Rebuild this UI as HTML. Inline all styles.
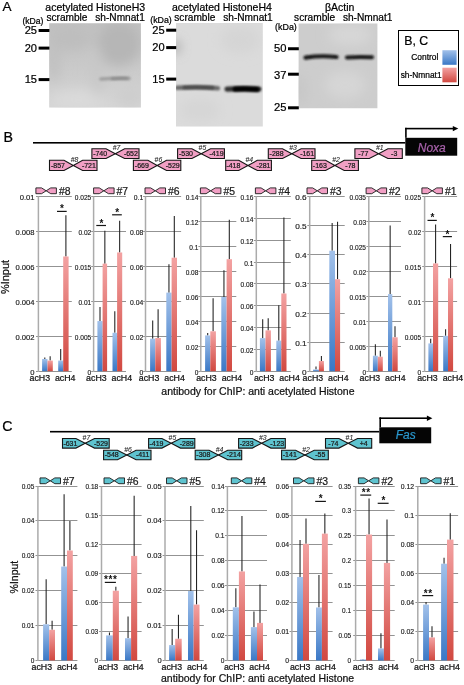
<!DOCTYPE html>
<html><head><meta charset="utf-8"><title>Figure</title>
<style>html,body{margin:0;padding:0;background:#fff;}svg{display:block;}text{font-family:"Liberation Sans", Arial, Helvetica, sans-serif;}</style>
</head><body>
<svg width="464" height="685" viewBox="0 0 464 685">
<defs>
<linearGradient id="gblue" x1="0" y1="0" x2="0" y2="1">
 <stop offset="0" stop-color="#a2c1ea"/><stop offset="1" stop-color="#3a78c6"/></linearGradient>
<linearGradient id="gred" x1="0" y1="0" x2="0" y2="1">
 <stop offset="0" stop-color="#f3a2a2"/><stop offset="1" stop-color="#d14840"/></linearGradient>
<linearGradient id="blot1" gradientUnits="userSpaceOnUse" x1="0" y1="23" x2="0" y2="108">
 <stop offset="0" stop-color="#c0c0c0"/><stop offset="0.45" stop-color="#c8c8c8"/><stop offset="1" stop-color="#d5d5d5"/></linearGradient>
<linearGradient id="blot1b" x1="0" y1="0" x2="1" y2="0">
 <stop offset="0" stop-color="#fff" stop-opacity="0.05"/><stop offset="0.5" stop-color="#fff" stop-opacity="0.08"/><stop offset="1" stop-color="#000" stop-opacity="0.04"/></linearGradient>
<linearGradient id="blot2" x1="0" y1="0" x2="0" y2="1">
 <stop offset="0" stop-color="#dadada"/><stop offset="1" stop-color="#dedede"/></linearGradient>
<linearGradient id="blot3" x1="0" y1="0" x2="0" y2="1">
 <stop offset="0" stop-color="#cfcfcf"/><stop offset="1" stop-color="#d6d6d6"/></linearGradient>
<filter id="blur1" filterUnits="userSpaceOnUse" x="0" y="0" width="464" height="200"><feGaussianBlur stdDeviation="1.0"/></filter>
<filter id="blur2" x="-50%" y="-50%" width="200%" height="200%"><feGaussianBlur stdDeviation="2.5"/></filter>
<filter id="blur6" filterUnits="userSpaceOnUse" x="0" y="0" width="464" height="200"><feGaussianBlur stdDeviation="6"/></filter>
<filter id="blur12" filterUnits="userSpaceOnUse" x="0" y="0" width="464" height="200"><feGaussianBlur stdDeviation="1.3"/></filter>
<filter id="blur08" filterUnits="userSpaceOnUse" x="0" y="0" width="464" height="200"><feGaussianBlur stdDeviation="0.8"/></filter>
</defs>
<text x="2.4" y="10.8" font-size="13.5" text-anchor="start" fill="#000" stroke="#000" stroke-width="0.22" >A</text>
<svg x="49.2" y="23.2" width="91.7" height="84.4" overflow="hidden"><g transform="translate(-49.2 -23.2)">
<rect x="40" y="15" width="110" height="100" fill="url(#blot1)"/>
<g filter="url(#blur6)">
<ellipse cx="119" cy="44" rx="22" ry="22" fill="#b6b6b6"/>
<ellipse cx="70" cy="38" rx="22" ry="12" fill="#bebebe"/>
<ellipse cx="54" cy="62" rx="6" ry="20" fill="#c0c0c0"/>
<ellipse cx="78" cy="100" rx="28" ry="10" fill="#dadada"/>
<ellipse cx="130" cy="98" rx="12" ry="10" fill="#cdcdcd"/>
<ellipse cx="97" cy="72" rx="6" ry="26" fill="#c8c8c8"/>
</g>
<path d="M101,79 Q114,77.8 129,78.4" stroke="#a0a0a0" stroke-width="3.6" fill="none" stroke-linecap="round" filter="url(#blur12)"/>
<path d="M112,78.7 Q120,78 127,78.4" stroke="#8c8c8c" stroke-width="2.4" fill="none" stroke-linecap="round" filter="url(#blur12)"/>
</g></svg>
<svg x="176" y="23" width="86.8" height="103.6" overflow="hidden"><g transform="translate(-176 -23)">
<rect x="170" y="15" width="100" height="120" fill="#dbdbdb"/>
<g filter="url(#blur6)">
<ellipse cx="175" cy="47" rx="4" ry="6" fill="#909090"/>
<ellipse cx="240" cy="40" rx="20" ry="14" fill="#d5d5d5"/>
<ellipse cx="200" cy="110" rx="20" ry="12" fill="#d6d6d6"/>
</g>
<path d="M177,87.8 Q198,86.6 218,88.2" stroke="#6a6a6a" stroke-width="4.4" fill="none" stroke-linecap="round" filter="url(#blur1)"/>
<path d="M184,87.6 Q200,86.9 213,87.8" stroke="#4a4a4a" stroke-width="3" fill="none" stroke-linecap="round" filter="url(#blur1)"/>
<path d="M227,89.2 Q242,88.2 259,89.2" stroke="#333" stroke-width="5.2" fill="none" stroke-linecap="round" filter="url(#blur1)"/>
<path d="M235,89.2 Q246,88.4 257,89.3" stroke="#050505" stroke-width="4.8" fill="none" stroke-linecap="round" filter="url(#blur1)"/>
</g></svg>
<svg x="298.6" y="23.5" width="78.8" height="84.7" overflow="hidden"><g transform="translate(-298.6 -23.5)">
<rect x="290" y="15" width="100" height="100" fill="#cdcdcd"/>
<g filter="url(#blur6)">
<ellipse cx="300" cy="90" rx="6" ry="16" fill="#c6c6c6"/>
<ellipse cx="350" cy="35" rx="22" ry="10" fill="#d7d7d7"/>
<ellipse cx="345" cy="85" rx="20" ry="14" fill="#d6d6d6"/>
</g>
<path d="M305.5,57.6 Q321,55.2 336.5,57" stroke="#161616" stroke-width="4.2" fill="none" stroke-linecap="round" filter="url(#blur08)"/>
<path d="M347,57.4 Q359,56.9 372,57.3" stroke="#161616" stroke-width="4.0" fill="none" stroke-linecap="round" filter="url(#blur08)"/>
</g></svg>
<text x="45.3" y="10.9" font-size="10.5" text-anchor="start" fill="#000" stroke="#000" stroke-width="0.22" >acetylated HistoneH3</text>
<text x="46.4" y="20.9" font-size="10.15" text-anchor="start" fill="#000" stroke="#000" stroke-width="0.22" >scramble</text>
<text x="95.3" y="20.9" font-size="10.15" text-anchor="start" fill="#000" stroke="#000" stroke-width="0.22" >sh-Nmnat1</text>
<text x="172" y="10.9" font-size="10.5" text-anchor="start" fill="#000" stroke="#000" stroke-width="0.22" >acetylated HistoneH4</text>
<text x="174.3" y="20.9" font-size="10.15" text-anchor="start" fill="#000" stroke="#000" stroke-width="0.22" >scramble</text>
<text x="223.2" y="20.9" font-size="10.15" text-anchor="start" fill="#000" stroke="#000" stroke-width="0.22" >sh-Nmnat1</text>
<text x="354.4" y="10.6" font-size="10.5" text-anchor="end" fill="#000" stroke="#000" stroke-width="0.22" >&#946;Actin</text>
<text x="294.1" y="20.7" font-size="10.15" text-anchor="start" fill="#000" stroke="#000" stroke-width="0.22" >scramble</text>
<text x="342.9" y="20.7" font-size="10.15" text-anchor="start" fill="#000" stroke="#000" stroke-width="0.22" >sh-Nmnat1</text>
<text x="22.4" y="23.8" font-size="8.6" text-anchor="start" fill="#000" stroke="#000" stroke-width="0.22" >(kDa)</text>
<rect x="38.6" y="29" width="10.8" height="3" fill="#000"/>
<text x="37" y="33.9" font-size="11.1" text-anchor="end" fill="#000" stroke="#000" stroke-width="0.22" >25</text>
<rect x="38.6" y="46.6" width="10.8" height="3" fill="#000"/>
<text x="37" y="51.5" font-size="11.1" text-anchor="end" fill="#000" stroke="#000" stroke-width="0.22" >20</text>
<rect x="38.6" y="78.1" width="10.8" height="3" fill="#000"/>
<text x="37" y="83" font-size="11.1" text-anchor="end" fill="#000" stroke="#000" stroke-width="0.22" >15</text>
<text x="150.3" y="23.3" font-size="8.8" text-anchor="start" fill="#000" stroke="#000" stroke-width="0.22" >(kDa)</text>
<rect x="166.2" y="28.7" width="10" height="3" fill="#000"/>
<text x="164.6" y="33.6" font-size="11.1" text-anchor="end" fill="#000" stroke="#000" stroke-width="0.22" >25</text>
<rect x="166.2" y="46.1" width="10" height="3" fill="#000"/>
<text x="164.6" y="51" font-size="11.1" text-anchor="end" fill="#000" stroke="#000" stroke-width="0.22" >20</text>
<rect x="166.2" y="77.6" width="10" height="3" fill="#000"/>
<text x="164.6" y="82.5" font-size="11.1" text-anchor="end" fill="#000" stroke="#000" stroke-width="0.22" >15</text>
<text x="275.1" y="30.1" font-size="8.9" text-anchor="start" fill="#000" stroke="#000" stroke-width="0.22" >(kDa)</text>
<rect x="288" y="47.25" width="10.8" height="3" fill="#000"/>
<text x="286.4" y="52.2" font-size="11.2" text-anchor="end" fill="#000" stroke="#000" stroke-width="0.22" >50</text>
<rect x="288" y="72.7" width="10.8" height="3" fill="#000"/>
<text x="286.4" y="79.3" font-size="11.2" text-anchor="end" fill="#000" stroke="#000" stroke-width="0.22" >37</text>
<rect x="288" y="106.3" width="10.8" height="3" fill="#000"/>
<text x="286.4" y="111" font-size="11.2" text-anchor="end" fill="#000" stroke="#000" stroke-width="0.22" >25</text>
<rect x="398.5" y="30.5" width="60" height="55" fill="#fff" stroke="#000" stroke-width="1"/>
<text x="404.2" y="44.7" font-size="12.3" text-anchor="start" fill="#000" stroke="#000" stroke-width="0.22" >B, C</text>
<text x="438.3" y="59.9" font-size="8.4" text-anchor="end" fill="#000" stroke="#000" stroke-width="0.22" >Control</text>
<text x="441.6" y="78.2" font-size="8.4" text-anchor="end" fill="#000" stroke="#000" stroke-width="0.22" >sh-Nmnat1</text>
<rect x="442.4" y="50.2" width="14.2" height="14.6" fill="url(#gblue)"/>
<rect x="442.4" y="67.7" width="14.2" height="14.6" fill="url(#gred)"/>
<text x="3.4" y="141.8" font-size="14.2" text-anchor="start" fill="#000" stroke="#000" stroke-width="0.22" >B</text>
<rect x="33" y="142" width="372.3" height="1.6" fill="#000"/>
<rect x="405.3" y="137.8" width="51.9" height="17.9" fill="#050505"/>
<rect x="405.1" y="127.8" width="1.6" height="10" fill="#000"/>
<rect x="405.1" y="127.8" width="48.4" height="1.6" fill="#000"/>
<polygon points="452.8,125.9 458.3,128.6 452.8,131.3" fill="#000"/>
<text x="431.75" y="151.5" font-size="12" text-anchor="middle" fill="#a862ab" stroke="#a862ab" stroke-width="0.22" font-style="italic">Noxa</text>
<polygon points="49.5,160.3 64,160.3 73.3,165.4 64,170.5 49.5,170.5" fill="#f19fc4" stroke="#151515" stroke-width="1.1" stroke-linejoin="miter"/>
<polygon points="97,160.3 82.6,160.3 73.3,165.4 82.6,170.5 97,170.5" fill="#f19fc4" stroke="#151515" stroke-width="1.1" stroke-linejoin="miter"/>
<text x="57.95" y="168" font-size="7.0" text-anchor="middle" fill="#1a1a1a" stroke="#1a1a1a" stroke-width="0.22" >-857</text>
<text x="88.9" y="168" font-size="7.0" text-anchor="middle" fill="#1a1a1a" stroke="#1a1a1a" stroke-width="0.22" >-721</text>
<text x="74.5" y="161.7" font-size="6.8" text-anchor="middle" fill="#222" stroke="#222" stroke-width="0.08" font-style="italic">#8</text>
<polygon points="91.9,148.8 106,148.8 115.3,153.65 106,158.5 91.9,158.5" fill="#f19fc4" stroke="#151515" stroke-width="1.1" stroke-linejoin="miter"/>
<polygon points="139,148.8 124.6,148.8 115.3,153.65 124.6,158.5 139,158.5" fill="#f19fc4" stroke="#151515" stroke-width="1.1" stroke-linejoin="miter"/>
<text x="100.15" y="156" font-size="7.0" text-anchor="middle" fill="#1a1a1a" stroke="#1a1a1a" stroke-width="0.22" >-740</text>
<text x="130.9" y="156" font-size="7.0" text-anchor="middle" fill="#1a1a1a" stroke="#1a1a1a" stroke-width="0.22" >-652</text>
<text x="116.5" y="150.2" font-size="6.8" text-anchor="middle" fill="#222" stroke="#222" stroke-width="0.08" font-style="italic">#7</text>
<polygon points="133.4,160.3 147.9,160.3 157.2,165.4 147.9,170.5 133.4,170.5" fill="#f19fc4" stroke="#151515" stroke-width="1.1" stroke-linejoin="miter"/>
<polygon points="180.8,160.3 166.5,160.3 157.2,165.4 166.5,170.5 180.8,170.5" fill="#f19fc4" stroke="#151515" stroke-width="1.1" stroke-linejoin="miter"/>
<text x="141.85" y="168" font-size="7.0" text-anchor="middle" fill="#1a1a1a" stroke="#1a1a1a" stroke-width="0.22" >-669</text>
<text x="172.75" y="168" font-size="7.0" text-anchor="middle" fill="#1a1a1a" stroke="#1a1a1a" stroke-width="0.22" >-529</text>
<text x="158.4" y="161.7" font-size="6.8" text-anchor="middle" fill="#222" stroke="#222" stroke-width="0.08" font-style="italic">#6</text>
<polygon points="177.6,148.8 191.9,148.8 201.2,153.65 191.9,158.5 177.6,158.5" fill="#f19fc4" stroke="#151515" stroke-width="1.1" stroke-linejoin="miter"/>
<polygon points="224.4,148.8 210.5,148.8 201.2,153.65 210.5,158.5 224.4,158.5" fill="#f19fc4" stroke="#151515" stroke-width="1.1" stroke-linejoin="miter"/>
<text x="185.95" y="156" font-size="7.0" text-anchor="middle" fill="#1a1a1a" stroke="#1a1a1a" stroke-width="0.22" >-530</text>
<text x="216.55" y="156" font-size="7.0" text-anchor="middle" fill="#1a1a1a" stroke="#1a1a1a" stroke-width="0.22" >-419</text>
<text x="202.4" y="150.2" font-size="6.8" text-anchor="middle" fill="#222" stroke="#222" stroke-width="0.08" font-style="italic">#5</text>
<polygon points="225.7,160.3 238.7,160.3 248,165.4 238.7,170.5 225.7,170.5" fill="#f19fc4" stroke="#151515" stroke-width="1.1" stroke-linejoin="miter"/>
<polygon points="271.4,160.3 257.3,160.3 248,165.4 257.3,170.5 271.4,170.5" fill="#f19fc4" stroke="#151515" stroke-width="1.1" stroke-linejoin="miter"/>
<text x="233.4" y="168" font-size="7.0" text-anchor="middle" fill="#1a1a1a" stroke="#1a1a1a" stroke-width="0.22" >-418</text>
<text x="263.45" y="168" font-size="7.0" text-anchor="middle" fill="#1a1a1a" stroke="#1a1a1a" stroke-width="0.22" >-281</text>
<text x="249.2" y="161.7" font-size="6.8" text-anchor="middle" fill="#222" stroke="#222" stroke-width="0.08" font-style="italic">#4</text>
<polygon points="268.3,148.8 282.5,148.8 291.8,153.65 282.5,158.5 268.3,158.5" fill="#f19fc4" stroke="#151515" stroke-width="1.1" stroke-linejoin="miter"/>
<polygon points="315,148.8 301.1,148.8 291.8,153.65 301.1,158.5 315,158.5" fill="#f19fc4" stroke="#151515" stroke-width="1.1" stroke-linejoin="miter"/>
<text x="276.6" y="156" font-size="7.0" text-anchor="middle" fill="#1a1a1a" stroke="#1a1a1a" stroke-width="0.22" >-288</text>
<text x="307.15" y="156" font-size="7.0" text-anchor="middle" fill="#1a1a1a" stroke="#1a1a1a" stroke-width="0.22" >-161</text>
<text x="293" y="150.2" font-size="6.8" text-anchor="middle" fill="#222" stroke="#222" stroke-width="0.08" font-style="italic">#3</text>
<polygon points="311.7,160.3 325.6,160.3 334.9,165.4 325.6,170.5 311.7,170.5" fill="#f19fc4" stroke="#151515" stroke-width="1.1" stroke-linejoin="miter"/>
<polygon points="358.4,160.3 344.2,160.3 334.9,165.4 344.2,170.5 358.4,170.5" fill="#f19fc4" stroke="#151515" stroke-width="1.1" stroke-linejoin="miter"/>
<text x="319.85" y="168" font-size="7.0" text-anchor="middle" fill="#1a1a1a" stroke="#1a1a1a" stroke-width="0.22" >-163</text>
<text x="350.4" y="168" font-size="7.0" text-anchor="middle" fill="#1a1a1a" stroke="#1a1a1a" stroke-width="0.22" >-78</text>
<text x="336.1" y="161.7" font-size="6.8" text-anchor="middle" fill="#222" stroke="#222" stroke-width="0.08" font-style="italic">#2</text>
<polygon points="354.9,148.8 369.3,148.8 378.6,153.65 369.3,158.5 354.9,158.5" fill="#f19fc4" stroke="#151515" stroke-width="1.1" stroke-linejoin="miter"/>
<polygon points="402.3,148.8 387.9,148.8 378.6,153.65 387.9,158.5 402.3,158.5" fill="#f19fc4" stroke="#151515" stroke-width="1.1" stroke-linejoin="miter"/>
<text x="363.3" y="156" font-size="7.0" text-anchor="middle" fill="#1a1a1a" stroke="#1a1a1a" stroke-width="0.22" >-77</text>
<text x="394.2" y="156" font-size="7.0" text-anchor="middle" fill="#1a1a1a" stroke="#1a1a1a" stroke-width="0.22" >-3</text>
<text x="379.8" y="150.2" font-size="6.8" text-anchor="middle" fill="#222" stroke="#222" stroke-width="0.08" font-style="italic">#1</text>
<line x1="36" y1="196.5" x2="71.8" y2="196.5" stroke="#939393" stroke-width="1.1"/>
<text x="34.55" y="199.8" font-size="7" text-anchor="end" fill="#1a1a1a" stroke="#1a1a1a" stroke-width="0.15" textLength="14.85" lengthAdjust="spacingAndGlyphs">0.01</text>
<line x1="36" y1="231.5" x2="71.8" y2="231.5" stroke="#939393" stroke-width="1.1"/>
<text x="34.55" y="234.8" font-size="7" text-anchor="end" fill="#1a1a1a" stroke="#1a1a1a" stroke-width="0.15" textLength="19.09" lengthAdjust="spacingAndGlyphs">0.008</text>
<line x1="36" y1="266.5" x2="71.8" y2="266.5" stroke="#939393" stroke-width="1.1"/>
<text x="34.55" y="269.8" font-size="7" text-anchor="end" fill="#1a1a1a" stroke="#1a1a1a" stroke-width="0.15" textLength="19.09" lengthAdjust="spacingAndGlyphs">0.006</text>
<line x1="36" y1="301.5" x2="71.8" y2="301.5" stroke="#939393" stroke-width="1.1"/>
<text x="34.55" y="304.8" font-size="7" text-anchor="end" fill="#1a1a1a" stroke="#1a1a1a" stroke-width="0.15" textLength="19.09" lengthAdjust="spacingAndGlyphs">0.004</text>
<line x1="36" y1="336.5" x2="71.8" y2="336.5" stroke="#939393" stroke-width="1.1"/>
<text x="34.55" y="339.8" font-size="7" text-anchor="end" fill="#1a1a1a" stroke="#1a1a1a" stroke-width="0.15" textLength="19.09" lengthAdjust="spacingAndGlyphs">0.002</text>
<line x1="36" y1="371.5" x2="71.8" y2="371.5" stroke="#939393" stroke-width="1.1"/>
<text x="34.55" y="374.8" font-size="7" text-anchor="end" fill="#1a1a1a" stroke="#1a1a1a" stroke-width="0.15" textLength="4.24" lengthAdjust="spacingAndGlyphs">0</text>
<line x1="38.4" y1="196.5" x2="38.4" y2="372" stroke="#ababab" stroke-width="1.5"/>
<line x1="44.8" y1="357.58" x2="44.8" y2="358.98" stroke="#1e1e1e" stroke-width="1.05"/>
<rect x="42.1" y="358.98" width="5.4" height="12.22" fill="url(#gblue)"/>
<line x1="50.15" y1="356.18" x2="50.15" y2="360.55" stroke="#1e1e1e" stroke-width="1.05"/>
<rect x="47.5" y="360.55" width="5.3" height="10.65" fill="url(#gred)"/>
<line x1="60.7" y1="349.03" x2="60.7" y2="360.55" stroke="#1e1e1e" stroke-width="1.05"/>
<rect x="58.2" y="360.55" width="5" height="10.65" fill="url(#gblue)"/>
<line x1="65.9" y1="215.28" x2="65.9" y2="256.49" stroke="#1e1e1e" stroke-width="1.05"/>
<rect x="63.2" y="256.49" width="5.4" height="114.71" fill="url(#gred)"/>
<line x1="57" y1="211.4" x2="66.7" y2="211.4" stroke="#151515" stroke-width="1.2"/>
<text x="62.35" y="212.4" font-size="10" font-weight="bold" letter-spacing="0.6" text-anchor="middle" fill="#111">*</text>
<polygon points="35.9,187.9 41.55,187.9 46.15,190.8 41.55,193.7 35.9,193.7" fill="#f19fc4" stroke="#1a1a1a" stroke-width="0.9"/>
<polygon points="56.4,187.9 50.75,187.9 46.15,190.8 50.75,193.7 56.4,193.7" fill="#f19fc4" stroke="#1a1a1a" stroke-width="0.9"/>
<text x="58.9" y="194.6" font-size="10.4" text-anchor="start" fill="#1a1a1a" stroke="#1a1a1a" stroke-width="0.22" >#8</text>
<text x="52.5" y="381.1" font-size="8.8" text-anchor="middle" fill="#111" stroke="#111" stroke-width="0.22" >acH3&#160;&#160;acH4</text>
<line x1="91.2" y1="196.5" x2="126" y2="196.5" stroke="#939393" stroke-width="1.1"/>
<text x="91.25" y="199.8" font-size="7" text-anchor="end" fill="#1a1a1a" stroke="#1a1a1a" stroke-width="0.15" textLength="16.46" lengthAdjust="spacingAndGlyphs">0.025</text>
<line x1="91.2" y1="231.5" x2="126" y2="231.5" stroke="#939393" stroke-width="1.1"/>
<text x="91.25" y="234.8" font-size="7" text-anchor="end" fill="#1a1a1a" stroke="#1a1a1a" stroke-width="0.15" textLength="12.8" lengthAdjust="spacingAndGlyphs">0.02</text>
<line x1="91.2" y1="266.5" x2="126" y2="266.5" stroke="#939393" stroke-width="1.1"/>
<text x="91.25" y="269.8" font-size="7" text-anchor="end" fill="#1a1a1a" stroke="#1a1a1a" stroke-width="0.15" textLength="16.46" lengthAdjust="spacingAndGlyphs">0.015</text>
<line x1="91.2" y1="301.5" x2="126" y2="301.5" stroke="#939393" stroke-width="1.1"/>
<text x="91.25" y="304.8" font-size="7" text-anchor="end" fill="#1a1a1a" stroke="#1a1a1a" stroke-width="0.15" textLength="12.8" lengthAdjust="spacingAndGlyphs">0.01</text>
<line x1="91.2" y1="336.5" x2="126" y2="336.5" stroke="#939393" stroke-width="1.1"/>
<text x="91.25" y="339.8" font-size="7" text-anchor="end" fill="#1a1a1a" stroke="#1a1a1a" stroke-width="0.15" textLength="16.46" lengthAdjust="spacingAndGlyphs">0.005</text>
<line x1="91.2" y1="371.5" x2="126" y2="371.5" stroke="#939393" stroke-width="1.1"/>
<text x="91.25" y="374.8" font-size="7" text-anchor="end" fill="#1a1a1a" stroke="#1a1a1a" stroke-width="0.15" textLength="3.66" lengthAdjust="spacingAndGlyphs">0</text>
<line x1="93.6" y1="196.5" x2="93.6" y2="372" stroke="#ababab" stroke-width="1.5"/>
<line x1="100" y1="306.95" x2="100" y2="321.05" stroke="#1e1e1e" stroke-width="1.05"/>
<rect x="97.4" y="321.05" width="5.2" height="50.15" fill="url(#gblue)"/>
<line x1="104.85" y1="230.82" x2="104.85" y2="263.65" stroke="#1e1e1e" stroke-width="1.05"/>
<rect x="102.6" y="263.65" width="4.5" height="107.55" fill="url(#gred)"/>
<line x1="114.8" y1="311.14" x2="114.8" y2="332.79" stroke="#1e1e1e" stroke-width="1.05"/>
<rect x="112.5" y="332.79" width="4.6" height="38.41" fill="url(#gblue)"/>
<line x1="119.65" y1="220.69" x2="119.65" y2="252.47" stroke="#1e1e1e" stroke-width="1.05"/>
<rect x="117.1" y="252.47" width="5.1" height="118.73" fill="url(#gred)"/>
<line x1="96.3" y1="225.5" x2="106" y2="225.5" stroke="#151515" stroke-width="1.2"/>
<text x="101.65" y="226.5" font-size="10" font-weight="bold" letter-spacing="0.6" text-anchor="middle" fill="#111">*</text>
<line x1="112.1" y1="214.8" x2="121.8" y2="214.8" stroke="#151515" stroke-width="1.2"/>
<text x="117.45" y="215.8" font-size="10" font-weight="bold" letter-spacing="0.6" text-anchor="middle" fill="#111">*</text>
<polygon points="93.6,187.9 99.25,187.9 103.85,190.8 99.25,193.7 93.6,193.7" fill="#f19fc4" stroke="#1a1a1a" stroke-width="0.9"/>
<polygon points="114.1,187.9 108.45,187.9 103.85,190.8 108.45,193.7 114.1,193.7" fill="#f19fc4" stroke="#1a1a1a" stroke-width="0.9"/>
<text x="116.6" y="194.6" font-size="10.4" text-anchor="start" fill="#1a1a1a" stroke="#1a1a1a" stroke-width="0.22" >#7</text>
<text x="109.1" y="381.1" font-size="8.8" text-anchor="middle" fill="#111" stroke="#111" stroke-width="0.22" >acH3&#160;&#160;acH4</text>
<line x1="143.1" y1="196.5" x2="181.1" y2="196.5" stroke="#939393" stroke-width="1.1"/>
<text x="143.25" y="199.8" font-size="7" text-anchor="end" fill="#1a1a1a" stroke="#1a1a1a" stroke-width="0.15" textLength="9.44" lengthAdjust="spacingAndGlyphs">0.1</text>
<line x1="143.1" y1="231.5" x2="181.1" y2="231.5" stroke="#939393" stroke-width="1.1"/>
<text x="143.25" y="234.8" font-size="7" text-anchor="end" fill="#1a1a1a" stroke="#1a1a1a" stroke-width="0.15" textLength="13.21" lengthAdjust="spacingAndGlyphs">0.08</text>
<line x1="143.1" y1="266.5" x2="181.1" y2="266.5" stroke="#939393" stroke-width="1.1"/>
<text x="143.25" y="269.8" font-size="7" text-anchor="end" fill="#1a1a1a" stroke="#1a1a1a" stroke-width="0.15" textLength="13.21" lengthAdjust="spacingAndGlyphs">0.06</text>
<line x1="143.1" y1="301.5" x2="181.1" y2="301.5" stroke="#939393" stroke-width="1.1"/>
<text x="143.25" y="304.8" font-size="7" text-anchor="end" fill="#1a1a1a" stroke="#1a1a1a" stroke-width="0.15" textLength="13.21" lengthAdjust="spacingAndGlyphs">0.04</text>
<line x1="143.1" y1="336.5" x2="181.1" y2="336.5" stroke="#939393" stroke-width="1.1"/>
<text x="143.25" y="339.8" font-size="7" text-anchor="end" fill="#1a1a1a" stroke="#1a1a1a" stroke-width="0.15" textLength="13.21" lengthAdjust="spacingAndGlyphs">0.02</text>
<line x1="143.1" y1="371.5" x2="181.1" y2="371.5" stroke="#939393" stroke-width="1.1"/>
<text x="143.25" y="374.8" font-size="7" text-anchor="end" fill="#1a1a1a" stroke="#1a1a1a" stroke-width="0.15" textLength="3.78" lengthAdjust="spacingAndGlyphs">0</text>
<line x1="145.5" y1="196.5" x2="145.5" y2="372" stroke="#ababab" stroke-width="1.5"/>
<line x1="152.7" y1="320.57" x2="152.7" y2="338.72" stroke="#1e1e1e" stroke-width="1.05"/>
<rect x="150.1" y="338.72" width="5.2" height="32.48" fill="url(#gblue)"/>
<line x1="158.1" y1="309.22" x2="158.1" y2="338.03" stroke="#1e1e1e" stroke-width="1.05"/>
<rect x="155.3" y="338.03" width="5.6" height="33.17" fill="url(#gred)"/>
<line x1="168.95" y1="264.17" x2="168.95" y2="292.63" stroke="#1e1e1e" stroke-width="1.05"/>
<rect x="166.3" y="292.63" width="5.3" height="78.57" fill="url(#gblue)"/>
<line x1="174.3" y1="215.98" x2="174.3" y2="257.71" stroke="#1e1e1e" stroke-width="1.05"/>
<rect x="171.6" y="257.71" width="5.4" height="113.49" fill="url(#gred)"/>
<polygon points="145,187.9 150.65,187.9 155.25,190.8 150.65,193.7 145,193.7" fill="#f19fc4" stroke="#1a1a1a" stroke-width="0.9"/>
<polygon points="165.5,187.9 159.85,187.9 155.25,190.8 159.85,193.7 165.5,193.7" fill="#f19fc4" stroke="#1a1a1a" stroke-width="0.9"/>
<text x="168" y="194.6" font-size="10.4" text-anchor="start" fill="#1a1a1a" stroke="#1a1a1a" stroke-width="0.22" >#6</text>
<text x="161.8" y="381.1" font-size="8.8" text-anchor="middle" fill="#111" stroke="#111" stroke-width="0.22" >acH3&#160;&#160;acH4</text>
<line x1="198.4" y1="196.5" x2="236.3" y2="196.5" stroke="#939393" stroke-width="1.1"/>
<text x="198.35" y="199.8" font-size="7" text-anchor="end" fill="#1a1a1a" stroke="#1a1a1a" stroke-width="0.15" textLength="12.67" lengthAdjust="spacingAndGlyphs">0.14</text>
<line x1="198.4" y1="221.5" x2="236.3" y2="221.5" stroke="#939393" stroke-width="1.1"/>
<text x="198.35" y="224.8" font-size="7" text-anchor="end" fill="#1a1a1a" stroke="#1a1a1a" stroke-width="0.15" textLength="12.67" lengthAdjust="spacingAndGlyphs">0.12</text>
<line x1="198.4" y1="246.5" x2="236.3" y2="246.5" stroke="#939393" stroke-width="1.1"/>
<text x="198.35" y="249.8" font-size="7" text-anchor="end" fill="#1a1a1a" stroke="#1a1a1a" stroke-width="0.15" textLength="9.05" lengthAdjust="spacingAndGlyphs">0.1</text>
<line x1="198.4" y1="271.5" x2="236.3" y2="271.5" stroke="#939393" stroke-width="1.1"/>
<text x="198.35" y="274.8" font-size="7" text-anchor="end" fill="#1a1a1a" stroke="#1a1a1a" stroke-width="0.15" textLength="12.67" lengthAdjust="spacingAndGlyphs">0.08</text>
<line x1="198.4" y1="296.5" x2="236.3" y2="296.5" stroke="#939393" stroke-width="1.1"/>
<text x="198.35" y="299.8" font-size="7" text-anchor="end" fill="#1a1a1a" stroke="#1a1a1a" stroke-width="0.15" textLength="12.67" lengthAdjust="spacingAndGlyphs">0.06</text>
<line x1="198.4" y1="321.5" x2="236.3" y2="321.5" stroke="#939393" stroke-width="1.1"/>
<text x="198.35" y="324.8" font-size="7" text-anchor="end" fill="#1a1a1a" stroke="#1a1a1a" stroke-width="0.15" textLength="12.67" lengthAdjust="spacingAndGlyphs">0.04</text>
<line x1="198.4" y1="346.5" x2="236.3" y2="346.5" stroke="#939393" stroke-width="1.1"/>
<text x="198.35" y="349.8" font-size="7" text-anchor="end" fill="#1a1a1a" stroke="#1a1a1a" stroke-width="0.15" textLength="12.67" lengthAdjust="spacingAndGlyphs">0.02</text>
<line x1="198.4" y1="371.5" x2="236.3" y2="371.5" stroke="#939393" stroke-width="1.1"/>
<text x="198.35" y="374.8" font-size="7" text-anchor="end" fill="#1a1a1a" stroke="#1a1a1a" stroke-width="0.15" textLength="3.62" lengthAdjust="spacingAndGlyphs">0</text>
<line x1="200.8" y1="196.5" x2="200.8" y2="372" stroke="#ababab" stroke-width="1.5"/>
<line x1="207.7" y1="333.04" x2="207.7" y2="335.41" stroke="#1e1e1e" stroke-width="1.05"/>
<rect x="205.1" y="335.41" width="5.2" height="35.79" fill="url(#gblue)"/>
<line x1="213.1" y1="298.24" x2="213.1" y2="331.29" stroke="#1e1e1e" stroke-width="1.05"/>
<rect x="210.3" y="331.29" width="5.6" height="39.91" fill="url(#gred)"/>
<line x1="223.95" y1="270.18" x2="223.95" y2="297" stroke="#1e1e1e" stroke-width="1.05"/>
<rect x="221.3" y="297" width="5.3" height="74.2" fill="url(#gblue)"/>
<line x1="229.3" y1="219.67" x2="229.3" y2="259.21" stroke="#1e1e1e" stroke-width="1.05"/>
<rect x="226.6" y="259.21" width="5.4" height="111.99" fill="url(#gred)"/>
<polygon points="200.4,187.9 206.05,187.9 210.65,190.8 206.05,193.7 200.4,193.7" fill="#f19fc4" stroke="#1a1a1a" stroke-width="0.9"/>
<polygon points="220.9,187.9 215.25,187.9 210.65,190.8 215.25,193.7 220.9,193.7" fill="#f19fc4" stroke="#1a1a1a" stroke-width="0.9"/>
<text x="223.4" y="194.6" font-size="10.4" text-anchor="start" fill="#1a1a1a" stroke="#1a1a1a" stroke-width="0.22" >#5</text>
<text x="219.2" y="381.1" font-size="8.8" text-anchor="middle" fill="#111" stroke="#111" stroke-width="0.22" >acH3&#160;&#160;acH4</text>
<line x1="253.9" y1="196.5" x2="290.8" y2="196.5" stroke="#939393" stroke-width="1.1"/>
<text x="253.35" y="199.8" font-size="7" text-anchor="end" fill="#1a1a1a" stroke="#1a1a1a" stroke-width="0.15" textLength="12.8" lengthAdjust="spacingAndGlyphs">0.16</text>
<line x1="253.9" y1="218.5" x2="290.8" y2="218.5" stroke="#939393" stroke-width="1.1"/>
<text x="253.35" y="221.8" font-size="7" text-anchor="end" fill="#1a1a1a" stroke="#1a1a1a" stroke-width="0.15" textLength="12.8" lengthAdjust="spacingAndGlyphs">0.14</text>
<line x1="253.9" y1="240.5" x2="290.8" y2="240.5" stroke="#939393" stroke-width="1.1"/>
<text x="253.35" y="243.8" font-size="7" text-anchor="end" fill="#1a1a1a" stroke="#1a1a1a" stroke-width="0.15" textLength="12.8" lengthAdjust="spacingAndGlyphs">0.12</text>
<line x1="253.9" y1="262.5" x2="290.8" y2="262.5" stroke="#939393" stroke-width="1.1"/>
<text x="253.35" y="265.8" font-size="7" text-anchor="end" fill="#1a1a1a" stroke="#1a1a1a" stroke-width="0.15" textLength="9.15" lengthAdjust="spacingAndGlyphs">0.1</text>
<line x1="253.9" y1="283.5" x2="290.8" y2="283.5" stroke="#939393" stroke-width="1.1"/>
<text x="253.35" y="286.8" font-size="7" text-anchor="end" fill="#1a1a1a" stroke="#1a1a1a" stroke-width="0.15" textLength="12.8" lengthAdjust="spacingAndGlyphs">0.08</text>
<line x1="253.9" y1="305.5" x2="290.8" y2="305.5" stroke="#939393" stroke-width="1.1"/>
<text x="253.35" y="308.8" font-size="7" text-anchor="end" fill="#1a1a1a" stroke="#1a1a1a" stroke-width="0.15" textLength="12.8" lengthAdjust="spacingAndGlyphs">0.06</text>
<line x1="253.9" y1="327.5" x2="290.8" y2="327.5" stroke="#939393" stroke-width="1.1"/>
<text x="253.35" y="330.8" font-size="7" text-anchor="end" fill="#1a1a1a" stroke="#1a1a1a" stroke-width="0.15" textLength="12.8" lengthAdjust="spacingAndGlyphs">0.04</text>
<line x1="253.9" y1="349.5" x2="290.8" y2="349.5" stroke="#939393" stroke-width="1.1"/>
<text x="253.35" y="352.8" font-size="7" text-anchor="end" fill="#1a1a1a" stroke="#1a1a1a" stroke-width="0.15" textLength="12.8" lengthAdjust="spacingAndGlyphs">0.02</text>
<line x1="253.9" y1="371.5" x2="290.8" y2="371.5" stroke="#939393" stroke-width="1.1"/>
<text x="253.35" y="374.8" font-size="7" text-anchor="end" fill="#1a1a1a" stroke="#1a1a1a" stroke-width="0.15" textLength="3.66" lengthAdjust="spacingAndGlyphs">0</text>
<line x1="256.3" y1="196.5" x2="256.3" y2="372" stroke="#ababab" stroke-width="1.5"/>
<line x1="262.7" y1="319.26" x2="262.7" y2="338.14" stroke="#1e1e1e" stroke-width="1.05"/>
<rect x="259.9" y="338.14" width="5.6" height="33.06" fill="url(#gblue)"/>
<line x1="268.2" y1="318.27" x2="268.2" y2="330.39" stroke="#1e1e1e" stroke-width="1.05"/>
<rect x="265.5" y="330.39" width="5.4" height="40.81" fill="url(#gred)"/>
<line x1="278.8" y1="305.29" x2="278.8" y2="340.64" stroke="#1e1e1e" stroke-width="1.05"/>
<rect x="276.3" y="340.64" width="5" height="30.56" fill="url(#gblue)"/>
<line x1="283.9" y1="217.44" x2="283.9" y2="293.5" stroke="#1e1e1e" stroke-width="1.05"/>
<rect x="281.3" y="293.5" width="5.2" height="77.7" fill="url(#gred)"/>
<polygon points="255.4,187.9 261.05,187.9 265.65,190.8 261.05,193.7 255.4,193.7" fill="#f19fc4" stroke="#1a1a1a" stroke-width="0.9"/>
<polygon points="275.9,187.9 270.25,187.9 265.65,190.8 270.25,193.7 275.9,193.7" fill="#f19fc4" stroke="#1a1a1a" stroke-width="0.9"/>
<text x="278.4" y="194.6" font-size="10.4" text-anchor="start" fill="#1a1a1a" stroke="#1a1a1a" stroke-width="0.22" >#4</text>
<text x="276.9" y="381.1" font-size="8.8" text-anchor="middle" fill="#111" stroke="#111" stroke-width="0.22" >acH3&#160;&#160;acH4</text>
<line x1="307.3" y1="196.5" x2="344.7" y2="196.5" stroke="#939393" stroke-width="1.1"/>
<text x="306.65" y="199.8" font-size="7" text-anchor="end" fill="#1a1a1a" stroke="#1a1a1a" stroke-width="0.15" textLength="11.48" lengthAdjust="spacingAndGlyphs">0.6</text>
<line x1="307.3" y1="225.5" x2="344.7" y2="225.5" stroke="#939393" stroke-width="1.1"/>
<text x="306.65" y="228.8" font-size="7" text-anchor="end" fill="#1a1a1a" stroke="#1a1a1a" stroke-width="0.15" textLength="11.48" lengthAdjust="spacingAndGlyphs">0.5</text>
<line x1="307.3" y1="254.5" x2="344.7" y2="254.5" stroke="#939393" stroke-width="1.1"/>
<text x="306.65" y="257.8" font-size="7" text-anchor="end" fill="#1a1a1a" stroke="#1a1a1a" stroke-width="0.15" textLength="11.48" lengthAdjust="spacingAndGlyphs">0.4</text>
<line x1="307.3" y1="283.5" x2="344.7" y2="283.5" stroke="#939393" stroke-width="1.1"/>
<text x="306.65" y="286.8" font-size="7" text-anchor="end" fill="#1a1a1a" stroke="#1a1a1a" stroke-width="0.15" textLength="11.48" lengthAdjust="spacingAndGlyphs">0.3</text>
<line x1="307.3" y1="313.5" x2="344.7" y2="313.5" stroke="#939393" stroke-width="1.1"/>
<text x="306.65" y="316.8" font-size="7" text-anchor="end" fill="#1a1a1a" stroke="#1a1a1a" stroke-width="0.15" textLength="11.48" lengthAdjust="spacingAndGlyphs">0.2</text>
<line x1="307.3" y1="342.5" x2="344.7" y2="342.5" stroke="#939393" stroke-width="1.1"/>
<text x="306.65" y="345.8" font-size="7" text-anchor="end" fill="#1a1a1a" stroke="#1a1a1a" stroke-width="0.15" textLength="11.48" lengthAdjust="spacingAndGlyphs">0.1</text>
<line x1="307.3" y1="371.5" x2="344.7" y2="371.5" stroke="#939393" stroke-width="1.1"/>
<text x="306.65" y="374.8" font-size="7" text-anchor="end" fill="#1a1a1a" stroke="#1a1a1a" stroke-width="0.15" textLength="4.59" lengthAdjust="spacingAndGlyphs">0</text>
<line x1="309.7" y1="196.5" x2="309.7" y2="372" stroke="#ababab" stroke-width="1.5"/>
<line x1="316" y1="366.54" x2="316" y2="369.45" stroke="#1e1e1e" stroke-width="1.05"/>
<rect x="313.1" y="369.45" width="5.8" height="1.75" fill="url(#gblue)"/>
<line x1="321.4" y1="356.07" x2="321.4" y2="361.01" stroke="#1e1e1e" stroke-width="1.05"/>
<rect x="318.9" y="361.01" width="5" height="10.19" fill="url(#gred)"/>
<line x1="332.15" y1="223.08" x2="332.15" y2="250.73" stroke="#1e1e1e" stroke-width="1.05"/>
<rect x="329.3" y="250.73" width="5.7" height="120.47" fill="url(#gblue)"/>
<line x1="337.55" y1="221.63" x2="337.55" y2="279.24" stroke="#1e1e1e" stroke-width="1.05"/>
<rect x="335" y="279.24" width="5.1" height="91.96" fill="url(#gred)"/>
<polygon points="307,187.9 312.65,187.9 317.25,190.8 312.65,193.7 307,193.7" fill="#f19fc4" stroke="#1a1a1a" stroke-width="0.9"/>
<polygon points="327.5,187.9 321.85,187.9 317.25,190.8 321.85,193.7 327.5,193.7" fill="#f19fc4" stroke="#1a1a1a" stroke-width="0.9"/>
<text x="330" y="194.6" font-size="10.4" text-anchor="start" fill="#1a1a1a" stroke="#1a1a1a" stroke-width="0.22" >#3</text>
<text x="325.6" y="381.1" font-size="8.8" text-anchor="middle" fill="#111" stroke="#111" stroke-width="0.22" >acH3&#160;&#160;acH4</text>
<line x1="366.4" y1="196.5" x2="401" y2="196.5" stroke="#939393" stroke-width="1.1"/>
<text x="366.05" y="199.8" font-size="7" text-anchor="end" fill="#1a1a1a" stroke="#1a1a1a" stroke-width="0.15" textLength="16.46" lengthAdjust="spacingAndGlyphs">0.035</text>
<line x1="366.4" y1="221.5" x2="401" y2="221.5" stroke="#939393" stroke-width="1.1"/>
<text x="366.05" y="224.8" font-size="7" text-anchor="end" fill="#1a1a1a" stroke="#1a1a1a" stroke-width="0.15" textLength="12.8" lengthAdjust="spacingAndGlyphs">0.03</text>
<line x1="366.4" y1="246.5" x2="401" y2="246.5" stroke="#939393" stroke-width="1.1"/>
<text x="366.05" y="249.8" font-size="7" text-anchor="end" fill="#1a1a1a" stroke="#1a1a1a" stroke-width="0.15" textLength="16.46" lengthAdjust="spacingAndGlyphs">0.025</text>
<line x1="366.4" y1="271.5" x2="401" y2="271.5" stroke="#939393" stroke-width="1.1"/>
<text x="366.05" y="274.8" font-size="7" text-anchor="end" fill="#1a1a1a" stroke="#1a1a1a" stroke-width="0.15" textLength="12.8" lengthAdjust="spacingAndGlyphs">0.02</text>
<line x1="366.4" y1="296.5" x2="401" y2="296.5" stroke="#939393" stroke-width="1.1"/>
<text x="366.05" y="299.8" font-size="7" text-anchor="end" fill="#1a1a1a" stroke="#1a1a1a" stroke-width="0.15" textLength="16.46" lengthAdjust="spacingAndGlyphs">0.015</text>
<line x1="366.4" y1="321.5" x2="401" y2="321.5" stroke="#939393" stroke-width="1.1"/>
<text x="366.05" y="324.8" font-size="7" text-anchor="end" fill="#1a1a1a" stroke="#1a1a1a" stroke-width="0.15" textLength="12.8" lengthAdjust="spacingAndGlyphs">0.01</text>
<line x1="366.4" y1="346.5" x2="401" y2="346.5" stroke="#939393" stroke-width="1.1"/>
<text x="366.05" y="349.8" font-size="7" text-anchor="end" fill="#1a1a1a" stroke="#1a1a1a" stroke-width="0.15" textLength="16.46" lengthAdjust="spacingAndGlyphs">0.005</text>
<line x1="366.4" y1="371.5" x2="401" y2="371.5" stroke="#939393" stroke-width="1.1"/>
<text x="366.05" y="374.8" font-size="7" text-anchor="end" fill="#1a1a1a" stroke="#1a1a1a" stroke-width="0.15" textLength="3.66" lengthAdjust="spacingAndGlyphs">0</text>
<line x1="368.8" y1="196.5" x2="368.8" y2="372" stroke="#ababab" stroke-width="1.5"/>
<line x1="375.35" y1="344.26" x2="375.35" y2="355.74" stroke="#1e1e1e" stroke-width="1.05"/>
<rect x="372.9" y="355.74" width="4.9" height="15.46" fill="url(#gblue)"/>
<line x1="380.3" y1="350.75" x2="380.3" y2="356.73" stroke="#1e1e1e" stroke-width="1.05"/>
<rect x="377.8" y="356.73" width="5" height="14.47" fill="url(#gred)"/>
<line x1="390.15" y1="225.53" x2="390.15" y2="294.13" stroke="#1e1e1e" stroke-width="1.05"/>
<rect x="388" y="294.13" width="4.3" height="77.07" fill="url(#gblue)"/>
<line x1="395" y1="326.3" x2="395" y2="337.28" stroke="#1e1e1e" stroke-width="1.05"/>
<rect x="392.3" y="337.28" width="5.4" height="33.92" fill="url(#gred)"/>
<polygon points="366.1,187.9 371.75,187.9 376.35,190.8 371.75,193.7 366.1,193.7" fill="#f19fc4" stroke="#1a1a1a" stroke-width="0.9"/>
<polygon points="386.6,187.9 380.95,187.9 376.35,190.8 380.95,193.7 386.6,193.7" fill="#f19fc4" stroke="#1a1a1a" stroke-width="0.9"/>
<text x="389.1" y="194.6" font-size="10.4" text-anchor="start" fill="#1a1a1a" stroke="#1a1a1a" stroke-width="0.22" >#2</text>
<text x="382.6" y="381.1" font-size="8.8" text-anchor="middle" fill="#111" stroke="#111" stroke-width="0.22" >acH3&#160;&#160;acH4</text>
<line x1="422.2" y1="196.5" x2="457.1" y2="196.5" stroke="#939393" stroke-width="1.1"/>
<text x="421.05" y="199.8" font-size="7" text-anchor="end" fill="#1a1a1a" stroke="#1a1a1a" stroke-width="0.15" textLength="16.38" lengthAdjust="spacingAndGlyphs">0.025</text>
<line x1="422.2" y1="231.5" x2="457.1" y2="231.5" stroke="#939393" stroke-width="1.1"/>
<text x="421.05" y="234.8" font-size="7" text-anchor="end" fill="#1a1a1a" stroke="#1a1a1a" stroke-width="0.15" textLength="12.74" lengthAdjust="spacingAndGlyphs">0.02</text>
<line x1="422.2" y1="266.5" x2="457.1" y2="266.5" stroke="#939393" stroke-width="1.1"/>
<text x="421.05" y="269.8" font-size="7" text-anchor="end" fill="#1a1a1a" stroke="#1a1a1a" stroke-width="0.15" textLength="16.38" lengthAdjust="spacingAndGlyphs">0.015</text>
<line x1="422.2" y1="301.5" x2="457.1" y2="301.5" stroke="#939393" stroke-width="1.1"/>
<text x="421.05" y="304.8" font-size="7" text-anchor="end" fill="#1a1a1a" stroke="#1a1a1a" stroke-width="0.15" textLength="12.74" lengthAdjust="spacingAndGlyphs">0.01</text>
<line x1="422.2" y1="336.5" x2="457.1" y2="336.5" stroke="#939393" stroke-width="1.1"/>
<text x="421.05" y="339.8" font-size="7" text-anchor="end" fill="#1a1a1a" stroke="#1a1a1a" stroke-width="0.15" textLength="16.38" lengthAdjust="spacingAndGlyphs">0.005</text>
<line x1="422.2" y1="371.5" x2="457.1" y2="371.5" stroke="#939393" stroke-width="1.1"/>
<text x="421.05" y="374.8" font-size="7" text-anchor="end" fill="#1a1a1a" stroke="#1a1a1a" stroke-width="0.15" textLength="3.64" lengthAdjust="spacingAndGlyphs">0</text>
<line x1="424.6" y1="196.5" x2="424.6" y2="372" stroke="#ababab" stroke-width="1.5"/>
<line x1="430.7" y1="338.65" x2="430.7" y2="343.4" stroke="#1e1e1e" stroke-width="1.05"/>
<rect x="428.4" y="343.4" width="4.6" height="27.8" fill="url(#gblue)"/>
<line x1="435.6" y1="224.54" x2="435.6" y2="263.44" stroke="#1e1e1e" stroke-width="1.05"/>
<rect x="433" y="263.44" width="5.2" height="107.76" fill="url(#gred)"/>
<line x1="445.6" y1="329.3" x2="445.6" y2="335.86" stroke="#1e1e1e" stroke-width="1.05"/>
<rect x="443.2" y="335.86" width="4.8" height="35.34" fill="url(#gblue)"/>
<line x1="450.55" y1="244.09" x2="450.55" y2="278.31" stroke="#1e1e1e" stroke-width="1.05"/>
<rect x="448" y="278.31" width="5.1" height="92.89" fill="url(#gred)"/>
<line x1="427.5" y1="220.4" x2="436.8" y2="220.4" stroke="#151515" stroke-width="1.2"/>
<text x="432.65" y="221.4" font-size="10" font-weight="bold" letter-spacing="0.6" text-anchor="middle" fill="#111">*</text>
<line x1="442.8" y1="236.6" x2="451.9" y2="236.6" stroke="#151515" stroke-width="1.2"/>
<text x="447.85" y="237.6" font-size="10" font-weight="bold" letter-spacing="0.6" text-anchor="middle" fill="#111">*</text>
<polygon points="421.9,187.9 427.55,187.9 432.15,190.8 427.55,193.7 421.9,193.7" fill="#f19fc4" stroke="#1a1a1a" stroke-width="0.9"/>
<polygon points="442.4,187.9 436.75,187.9 432.15,190.8 436.75,193.7 442.4,193.7" fill="#f19fc4" stroke="#1a1a1a" stroke-width="0.9"/>
<text x="444.9" y="194.6" font-size="10.4" text-anchor="start" fill="#1a1a1a" stroke="#1a1a1a" stroke-width="0.22" >#1</text>
<text x="440.2" y="381.1" font-size="8.8" text-anchor="middle" fill="#111" stroke="#111" stroke-width="0.22" >acH3&#160;&#160;acH4</text>
<text x="5.1" y="277.0" font-size="11" text-anchor="middle" fill="#111" stroke="#111" stroke-width="0.22" transform="rotate(-90 5.1 277.0)" dy="3.9">%Input</text>
<text x="161.3" y="395" font-size="10.5" text-anchor="start" fill="#111" stroke="#111" stroke-width="0.22" >antibody for ChIP: anti acetylated Histone</text>
<text x="2.2" y="431.4" font-size="14.2" text-anchor="start" fill="#000" stroke="#000" stroke-width="0.22" >C</text>
<rect x="50" y="430.9" width="329.3" height="1.6" fill="#000"/>
<rect x="379.3" y="427.3" width="51.9" height="16" fill="#050505"/>
<rect x="379.4" y="417.4" width="1.6" height="9.9" fill="#000"/>
<rect x="379.4" y="417.4" width="48.2" height="1.6" fill="#000"/>
<polygon points="426.9,415.5 432.4,418.2 426.9,420.9" fill="#000"/>
<text x="405.75" y="439.1" font-size="12" text-anchor="middle" fill="#2a98cf" stroke="#2a98cf" stroke-width="0.22" font-style="italic">Fas</text>
<polygon points="62.5,438.5 75.9,438.5 85.2,443.3 75.9,448.1 62.5,448.1" fill="#5ec3cf" stroke="#151515" stroke-width="1.1" stroke-linejoin="miter"/>
<polygon points="109.2,438.5 94.5,438.5 85.2,443.3 94.5,448.1 109.2,448.1" fill="#5ec3cf" stroke="#151515" stroke-width="1.1" stroke-linejoin="miter"/>
<text x="70.4" y="445.6" font-size="7.0" text-anchor="middle" fill="#1a1a1a" stroke="#1a1a1a" stroke-width="0.22" >-631</text>
<text x="100.95" y="445.6" font-size="7.0" text-anchor="middle" fill="#1a1a1a" stroke="#1a1a1a" stroke-width="0.22" >-529</text>
<text x="86.4" y="439.9" font-size="6.8" text-anchor="middle" fill="#222" stroke="#222" stroke-width="0.08" font-style="italic">#7</text>
<polygon points="103.6,450.3 117.5,450.3 126.8,455.05 117.5,459.8 103.6,459.8" fill="#5ec3cf" stroke="#151515" stroke-width="1.1" stroke-linejoin="miter"/>
<polygon points="151,450.3 136.1,450.3 126.8,455.05 136.1,459.8 151,459.8" fill="#5ec3cf" stroke="#151515" stroke-width="1.1" stroke-linejoin="miter"/>
<text x="111.75" y="457.3" font-size="7.0" text-anchor="middle" fill="#1a1a1a" stroke="#1a1a1a" stroke-width="0.22" >-548</text>
<text x="142.65" y="457.3" font-size="7.0" text-anchor="middle" fill="#1a1a1a" stroke="#1a1a1a" stroke-width="0.22" >-411</text>
<text x="128" y="451.7" font-size="6.8" text-anchor="middle" fill="#222" stroke="#222" stroke-width="0.08" font-style="italic">#6</text>
<polygon points="148.6,438.5 161.9,438.5 171.2,443.3 161.9,448.1 148.6,448.1" fill="#5ec3cf" stroke="#151515" stroke-width="1.1" stroke-linejoin="miter"/>
<polygon points="194.8,438.5 180.5,438.5 171.2,443.3 180.5,448.1 194.8,448.1" fill="#5ec3cf" stroke="#151515" stroke-width="1.1" stroke-linejoin="miter"/>
<text x="156.45" y="445.6" font-size="7.0" text-anchor="middle" fill="#1a1a1a" stroke="#1a1a1a" stroke-width="0.22" >-419</text>
<text x="186.75" y="445.6" font-size="7.0" text-anchor="middle" fill="#1a1a1a" stroke="#1a1a1a" stroke-width="0.22" >-289</text>
<text x="172.4" y="439.9" font-size="6.8" text-anchor="middle" fill="#222" stroke="#222" stroke-width="0.08" font-style="italic">#5</text>
<polygon points="195.2,450.3 209.1,450.3 218.4,455.05 209.1,459.8 195.2,459.8" fill="#5ec3cf" stroke="#151515" stroke-width="1.1" stroke-linejoin="miter"/>
<polygon points="241.7,450.3 227.7,450.3 218.4,455.05 227.7,459.8 241.7,459.8" fill="#5ec3cf" stroke="#151515" stroke-width="1.1" stroke-linejoin="miter"/>
<text x="203.35" y="457.3" font-size="7.0" text-anchor="middle" fill="#1a1a1a" stroke="#1a1a1a" stroke-width="0.22" >-308</text>
<text x="233.8" y="457.3" font-size="7.0" text-anchor="middle" fill="#1a1a1a" stroke="#1a1a1a" stroke-width="0.22" >-214</text>
<text x="219.6" y="451.7" font-size="6.8" text-anchor="middle" fill="#222" stroke="#222" stroke-width="0.08" font-style="italic">#4</text>
<polygon points="238.6,438.5 252.3,438.5 261.6,443.3 252.3,448.1 238.6,448.1" fill="#5ec3cf" stroke="#151515" stroke-width="1.1" stroke-linejoin="miter"/>
<polygon points="285.3,438.5 270.9,438.5 261.6,443.3 270.9,448.1 285.3,448.1" fill="#5ec3cf" stroke="#151515" stroke-width="1.1" stroke-linejoin="miter"/>
<text x="246.65" y="445.6" font-size="7.0" text-anchor="middle" fill="#1a1a1a" stroke="#1a1a1a" stroke-width="0.22" >-233</text>
<text x="277.2" y="445.6" font-size="7.0" text-anchor="middle" fill="#1a1a1a" stroke="#1a1a1a" stroke-width="0.22" >-123</text>
<text x="262.8" y="439.9" font-size="6.8" text-anchor="middle" fill="#222" stroke="#222" stroke-width="0.08" font-style="italic">#3</text>
<polygon points="281.6,450.3 295.6,450.3 304.9,455.05 295.6,459.8 281.6,459.8" fill="#5ec3cf" stroke="#151515" stroke-width="1.1" stroke-linejoin="miter"/>
<polygon points="328.3,450.3 314.2,450.3 304.9,455.05 314.2,459.8 328.3,459.8" fill="#5ec3cf" stroke="#151515" stroke-width="1.1" stroke-linejoin="miter"/>
<text x="289.8" y="457.3" font-size="7.0" text-anchor="middle" fill="#1a1a1a" stroke="#1a1a1a" stroke-width="0.22" >-141</text>
<text x="320.35" y="457.3" font-size="7.0" text-anchor="middle" fill="#1a1a1a" stroke="#1a1a1a" stroke-width="0.22" >-55</text>
<text x="306.1" y="451.7" font-size="6.8" text-anchor="middle" fill="#222" stroke="#222" stroke-width="0.08" font-style="italic">#2</text>
<polygon points="325.5,438.5 338.9,438.5 348.2,443.3 338.9,448.1 325.5,448.1" fill="#5ec3cf" stroke="#151515" stroke-width="1.1" stroke-linejoin="miter"/>
<polygon points="371.7,438.5 357.5,438.5 348.2,443.3 357.5,448.1 371.7,448.1" fill="#5ec3cf" stroke="#151515" stroke-width="1.1" stroke-linejoin="miter"/>
<text x="333.4" y="445.6" font-size="7.0" text-anchor="middle" fill="#1a1a1a" stroke="#1a1a1a" stroke-width="0.22" >-74</text>
<text x="363.7" y="445.6" font-size="7.0" text-anchor="middle" fill="#1a1a1a" stroke="#1a1a1a" stroke-width="0.22" >+4</text>
<text x="349.4" y="439.9" font-size="6.8" text-anchor="middle" fill="#222" stroke="#222" stroke-width="0.08" font-style="italic">#1</text>
<line x1="35.5" y1="486.5" x2="77.4" y2="486.5" stroke="#939393" stroke-width="1.1"/>
<text x="34.35" y="489.4" font-size="7" text-anchor="end" fill="#1a1a1a" stroke="#1a1a1a" stroke-width="0.15" textLength="12.67" lengthAdjust="spacingAndGlyphs">0.05</text>
<line x1="35.5" y1="520.5" x2="77.4" y2="520.5" stroke="#939393" stroke-width="1.1"/>
<text x="34.35" y="523.4" font-size="7" text-anchor="end" fill="#1a1a1a" stroke="#1a1a1a" stroke-width="0.15" textLength="12.67" lengthAdjust="spacingAndGlyphs">0.04</text>
<line x1="35.5" y1="555.5" x2="77.4" y2="555.5" stroke="#939393" stroke-width="1.1"/>
<text x="34.35" y="558.4" font-size="7" text-anchor="end" fill="#1a1a1a" stroke="#1a1a1a" stroke-width="0.15" textLength="12.67" lengthAdjust="spacingAndGlyphs">0.03</text>
<line x1="35.5" y1="590.5" x2="77.4" y2="590.5" stroke="#939393" stroke-width="1.1"/>
<text x="34.35" y="593.4" font-size="7" text-anchor="end" fill="#1a1a1a" stroke="#1a1a1a" stroke-width="0.15" textLength="12.67" lengthAdjust="spacingAndGlyphs">0.02</text>
<line x1="35.5" y1="625.5" x2="77.4" y2="625.5" stroke="#939393" stroke-width="1.1"/>
<text x="34.35" y="628.4" font-size="7" text-anchor="end" fill="#1a1a1a" stroke="#1a1a1a" stroke-width="0.15" textLength="12.67" lengthAdjust="spacingAndGlyphs">0.01</text>
<line x1="35.5" y1="660.5" x2="77.4" y2="660.5" stroke="#939393" stroke-width="1.1"/>
<text x="34.35" y="663.4" font-size="7" text-anchor="end" fill="#1a1a1a" stroke="#1a1a1a" stroke-width="0.15" textLength="3.62" lengthAdjust="spacingAndGlyphs">0</text>
<line x1="37.9" y1="486.5" x2="37.9" y2="661" stroke="#ababab" stroke-width="1.5"/>
<line x1="46.15" y1="579.13" x2="46.15" y2="624.3" stroke="#1e1e1e" stroke-width="1.05"/>
<rect x="43.1" y="624.3" width="6.1" height="36.1" fill="url(#gblue)"/>
<line x1="52.1" y1="620.64" x2="52.1" y2="629.81" stroke="#1e1e1e" stroke-width="1.05"/>
<rect x="49.2" y="629.81" width="5.8" height="30.59" fill="url(#gred)"/>
<line x1="64.1" y1="494.37" x2="64.1" y2="566.57" stroke="#1e1e1e" stroke-width="1.05"/>
<rect x="61.2" y="566.57" width="5.8" height="93.83" fill="url(#gblue)"/>
<line x1="69.9" y1="520.88" x2="69.9" y2="550.53" stroke="#1e1e1e" stroke-width="1.05"/>
<rect x="67" y="550.53" width="5.8" height="109.87" fill="url(#gred)"/>
<polygon points="40,477.9 45.65,477.9 50.25,480.8 45.65,483.7 40,483.7" fill="#5ec3cf" stroke="#1a1a1a" stroke-width="0.9"/>
<polygon points="60.5,477.9 54.85,477.9 50.25,480.8 54.85,483.7 60.5,483.7" fill="#5ec3cf" stroke="#1a1a1a" stroke-width="0.9"/>
<text x="63" y="484.6" font-size="10.4" text-anchor="start" fill="#1a1a1a" stroke="#1a1a1a" stroke-width="0.22" >#7</text>
<text x="54.5" y="669.6" font-size="8.8" text-anchor="middle" fill="#111" stroke="#111" stroke-width="0.22" >acH3&#160;&#160;acH4</text>
<line x1="99.1" y1="486.5" x2="141.6" y2="486.5" stroke="#939393" stroke-width="1.1"/>
<text x="98.15" y="489.4" font-size="7" text-anchor="end" fill="#1a1a1a" stroke="#1a1a1a" stroke-width="0.15" textLength="12.67" lengthAdjust="spacingAndGlyphs">0.18</text>
<line x1="99.1" y1="515.5" x2="141.6" y2="515.5" stroke="#939393" stroke-width="1.1"/>
<text x="98.15" y="518.4" font-size="7" text-anchor="end" fill="#1a1a1a" stroke="#1a1a1a" stroke-width="0.15" textLength="12.67" lengthAdjust="spacingAndGlyphs">0.15</text>
<line x1="99.1" y1="544.5" x2="141.6" y2="544.5" stroke="#939393" stroke-width="1.1"/>
<text x="98.15" y="547.4" font-size="7" text-anchor="end" fill="#1a1a1a" stroke="#1a1a1a" stroke-width="0.15" textLength="12.67" lengthAdjust="spacingAndGlyphs">0.12</text>
<line x1="99.1" y1="573.5" x2="141.6" y2="573.5" stroke="#939393" stroke-width="1.1"/>
<text x="98.15" y="576.4" font-size="7" text-anchor="end" fill="#1a1a1a" stroke="#1a1a1a" stroke-width="0.15" textLength="12.67" lengthAdjust="spacingAndGlyphs">0.09</text>
<line x1="99.1" y1="602.5" x2="141.6" y2="602.5" stroke="#939393" stroke-width="1.1"/>
<text x="98.15" y="605.4" font-size="7" text-anchor="end" fill="#1a1a1a" stroke="#1a1a1a" stroke-width="0.15" textLength="12.67" lengthAdjust="spacingAndGlyphs">0.06</text>
<line x1="99.1" y1="631.5" x2="141.6" y2="631.5" stroke="#939393" stroke-width="1.1"/>
<text x="98.15" y="634.4" font-size="7" text-anchor="end" fill="#1a1a1a" stroke="#1a1a1a" stroke-width="0.15" textLength="12.67" lengthAdjust="spacingAndGlyphs">0.03</text>
<line x1="99.1" y1="660.5" x2="141.6" y2="660.5" stroke="#939393" stroke-width="1.1"/>
<text x="98.15" y="663.4" font-size="7" text-anchor="end" fill="#1a1a1a" stroke="#1a1a1a" stroke-width="0.15" textLength="3.62" lengthAdjust="spacingAndGlyphs">0</text>
<line x1="101.5" y1="486.5" x2="101.5" y2="661" stroke="#ababab" stroke-width="1.5"/>
<line x1="109.45" y1="632.59" x2="109.45" y2="635.4" stroke="#1e1e1e" stroke-width="1.05"/>
<rect x="106.1" y="635.4" width="6.7" height="25" fill="url(#gblue)"/>
<line x1="115.85" y1="586.76" x2="115.85" y2="590.74" stroke="#1e1e1e" stroke-width="1.05"/>
<rect x="112.8" y="590.74" width="6.1" height="69.66" fill="url(#gred)"/>
<line x1="128.05" y1="616.51" x2="128.05" y2="638.21" stroke="#1e1e1e" stroke-width="1.05"/>
<rect x="125" y="638.21" width="6.1" height="22.19" fill="url(#gblue)"/>
<line x1="134.15" y1="495.69" x2="134.15" y2="555.95" stroke="#1e1e1e" stroke-width="1.05"/>
<rect x="131.1" y="555.95" width="6.1" height="104.45" fill="url(#gred)"/>
<line x1="104.8" y1="582.4" x2="115.9" y2="582.4" stroke="#151515" stroke-width="1.2"/>
<text x="110.85" y="583.4" font-size="10" font-weight="bold" letter-spacing="0.6" text-anchor="middle" fill="#111">***</text>
<polygon points="104,477.9 109.65,477.9 114.25,480.8 109.65,483.7 104,483.7" fill="#5ec3cf" stroke="#1a1a1a" stroke-width="0.9"/>
<polygon points="124.5,477.9 118.85,477.9 114.25,480.8 118.85,483.7 124.5,483.7" fill="#5ec3cf" stroke="#1a1a1a" stroke-width="0.9"/>
<text x="127" y="484.6" font-size="10.4" text-anchor="start" fill="#1a1a1a" stroke="#1a1a1a" stroke-width="0.22" >#6</text>
<text x="120.7" y="669.6" font-size="8.8" text-anchor="middle" fill="#111" stroke="#111" stroke-width="0.22" >acH3&#160;&#160;acH4</text>
<line x1="162.6" y1="486.5" x2="203.8" y2="486.5" stroke="#939393" stroke-width="1.1"/>
<text x="161.65" y="489.4" font-size="7" text-anchor="end" fill="#1a1a1a" stroke="#1a1a1a" stroke-width="0.15" textLength="14.71" lengthAdjust="spacingAndGlyphs">0.05</text>
<line x1="162.6" y1="520.5" x2="203.8" y2="520.5" stroke="#939393" stroke-width="1.1"/>
<text x="161.65" y="523.4" font-size="7" text-anchor="end" fill="#1a1a1a" stroke="#1a1a1a" stroke-width="0.15" textLength="14.71" lengthAdjust="spacingAndGlyphs">0.04</text>
<line x1="162.6" y1="555.5" x2="203.8" y2="555.5" stroke="#939393" stroke-width="1.1"/>
<text x="161.65" y="558.4" font-size="7" text-anchor="end" fill="#1a1a1a" stroke="#1a1a1a" stroke-width="0.15" textLength="14.71" lengthAdjust="spacingAndGlyphs">0.03</text>
<line x1="162.6" y1="590.5" x2="203.8" y2="590.5" stroke="#939393" stroke-width="1.1"/>
<text x="161.65" y="593.4" font-size="7" text-anchor="end" fill="#1a1a1a" stroke="#1a1a1a" stroke-width="0.15" textLength="14.71" lengthAdjust="spacingAndGlyphs">0.02</text>
<line x1="162.6" y1="625.5" x2="203.8" y2="625.5" stroke="#939393" stroke-width="1.1"/>
<text x="161.65" y="628.4" font-size="7" text-anchor="end" fill="#1a1a1a" stroke="#1a1a1a" stroke-width="0.15" textLength="14.71" lengthAdjust="spacingAndGlyphs">0.01</text>
<line x1="162.6" y1="660.5" x2="203.8" y2="660.5" stroke="#939393" stroke-width="1.1"/>
<text x="161.65" y="663.4" font-size="7" text-anchor="end" fill="#1a1a1a" stroke="#1a1a1a" stroke-width="0.15" textLength="4.2" lengthAdjust="spacingAndGlyphs">0</text>
<line x1="165" y1="486.5" x2="165" y2="661" stroke="#ababab" stroke-width="1.5"/>
<line x1="172.15" y1="629.01" x2="172.15" y2="645.05" stroke="#1e1e1e" stroke-width="1.05"/>
<rect x="169.1" y="645.05" width="6.1" height="15.35" fill="url(#gblue)"/>
<line x1="178.45" y1="614.71" x2="178.45" y2="638.77" stroke="#1e1e1e" stroke-width="1.05"/>
<rect x="175.2" y="638.77" width="6.5" height="21.63" fill="url(#gred)"/>
<line x1="190.8" y1="505.88" x2="190.8" y2="590.99" stroke="#1e1e1e" stroke-width="1.05"/>
<rect x="188" y="590.99" width="5.6" height="69.41" fill="url(#gblue)"/>
<line x1="196.55" y1="530.3" x2="196.55" y2="604.59" stroke="#1e1e1e" stroke-width="1.05"/>
<rect x="193.6" y="604.59" width="5.9" height="55.81" fill="url(#gred)"/>
<polygon points="166.5,477.9 172.15,477.9 176.75,480.8 172.15,483.7 166.5,483.7" fill="#5ec3cf" stroke="#1a1a1a" stroke-width="0.9"/>
<polygon points="187,477.9 181.35,477.9 176.75,480.8 181.35,483.7 187,483.7" fill="#5ec3cf" stroke="#1a1a1a" stroke-width="0.9"/>
<text x="189.5" y="484.6" font-size="10.4" text-anchor="start" fill="#1a1a1a" stroke="#1a1a1a" stroke-width="0.22" >#5</text>
<text x="184.5" y="669.6" font-size="8.8" text-anchor="middle" fill="#111" stroke="#111" stroke-width="0.22" >acH3&#160;&#160;acH4</text>
<line x1="225" y1="486.5" x2="267" y2="486.5" stroke="#939393" stroke-width="1.1"/>
<text x="224.55" y="489.4" font-size="7" text-anchor="end" fill="#1a1a1a" stroke="#1a1a1a" stroke-width="0.15" textLength="12.94" lengthAdjust="spacingAndGlyphs">0.14</text>
<line x1="225" y1="510.5" x2="267" y2="510.5" stroke="#939393" stroke-width="1.1"/>
<text x="224.55" y="513.4" font-size="7" text-anchor="end" fill="#1a1a1a" stroke="#1a1a1a" stroke-width="0.15" textLength="12.94" lengthAdjust="spacingAndGlyphs">0.12</text>
<line x1="225" y1="535.5" x2="267" y2="535.5" stroke="#939393" stroke-width="1.1"/>
<text x="224.55" y="538.4" font-size="7" text-anchor="end" fill="#1a1a1a" stroke="#1a1a1a" stroke-width="0.15" textLength="9.24" lengthAdjust="spacingAndGlyphs">0.1</text>
<line x1="225" y1="560.5" x2="267" y2="560.5" stroke="#939393" stroke-width="1.1"/>
<text x="224.55" y="563.4" font-size="7" text-anchor="end" fill="#1a1a1a" stroke="#1a1a1a" stroke-width="0.15" textLength="12.94" lengthAdjust="spacingAndGlyphs">0.08</text>
<line x1="225" y1="585.5" x2="267" y2="585.5" stroke="#939393" stroke-width="1.1"/>
<text x="224.55" y="588.4" font-size="7" text-anchor="end" fill="#1a1a1a" stroke="#1a1a1a" stroke-width="0.15" textLength="12.94" lengthAdjust="spacingAndGlyphs">0.06</text>
<line x1="225" y1="610.5" x2="267" y2="610.5" stroke="#939393" stroke-width="1.1"/>
<text x="224.55" y="613.4" font-size="7" text-anchor="end" fill="#1a1a1a" stroke="#1a1a1a" stroke-width="0.15" textLength="12.94" lengthAdjust="spacingAndGlyphs">0.04</text>
<line x1="225" y1="635.5" x2="267" y2="635.5" stroke="#939393" stroke-width="1.1"/>
<text x="224.55" y="638.4" font-size="7" text-anchor="end" fill="#1a1a1a" stroke="#1a1a1a" stroke-width="0.15" textLength="12.94" lengthAdjust="spacingAndGlyphs">0.02</text>
<line x1="225" y1="660.5" x2="267" y2="660.5" stroke="#939393" stroke-width="1.1"/>
<text x="224.55" y="663.4" font-size="7" text-anchor="end" fill="#1a1a1a" stroke="#1a1a1a" stroke-width="0.15" textLength="3.7" lengthAdjust="spacingAndGlyphs">0</text>
<line x1="227.4" y1="486.5" x2="227.4" y2="661" stroke="#ababab" stroke-width="1.5"/>
<line x1="235.85" y1="588.15" x2="235.85" y2="607.33" stroke="#1e1e1e" stroke-width="1.05"/>
<rect x="232.8" y="607.33" width="6.1" height="53.07" fill="url(#gblue)"/>
<line x1="241.95" y1="515.9" x2="241.95" y2="571.46" stroke="#1e1e1e" stroke-width="1.05"/>
<rect x="238.9" y="571.46" width="6.1" height="88.94" fill="url(#gred)"/>
<line x1="253.95" y1="611.44" x2="253.95" y2="627.14" stroke="#1e1e1e" stroke-width="1.05"/>
<rect x="250.9" y="627.14" width="6.1" height="33.26" fill="url(#gblue)"/>
<line x1="260" y1="584.54" x2="260" y2="622.9" stroke="#1e1e1e" stroke-width="1.05"/>
<rect x="257" y="622.9" width="6" height="37.5" fill="url(#gred)"/>
<polygon points="231.3,477.9 236.95,477.9 241.55,480.8 236.95,483.7 231.3,483.7" fill="#5ec3cf" stroke="#1a1a1a" stroke-width="0.9"/>
<polygon points="251.8,477.9 246.15,477.9 241.55,480.8 246.15,483.7 251.8,483.7" fill="#5ec3cf" stroke="#1a1a1a" stroke-width="0.9"/>
<text x="254.3" y="484.6" font-size="10.4" text-anchor="start" fill="#1a1a1a" stroke="#1a1a1a" stroke-width="0.22" >#4</text>
<text x="246.9" y="669.6" font-size="8.8" text-anchor="middle" fill="#111" stroke="#111" stroke-width="0.22" >acH3&#160;&#160;acH4</text>
<line x1="289.5" y1="486.5" x2="332.6" y2="486.5" stroke="#939393" stroke-width="1.1"/>
<text x="289.05" y="489.4" font-size="7" text-anchor="end" fill="#1a1a1a" stroke="#1a1a1a" stroke-width="0.15" textLength="13.35" lengthAdjust="spacingAndGlyphs">0.06</text>
<line x1="289.5" y1="515.5" x2="332.6" y2="515.5" stroke="#939393" stroke-width="1.1"/>
<text x="289.05" y="518.4" font-size="7" text-anchor="end" fill="#1a1a1a" stroke="#1a1a1a" stroke-width="0.15" textLength="13.35" lengthAdjust="spacingAndGlyphs">0.05</text>
<line x1="289.5" y1="544.5" x2="332.6" y2="544.5" stroke="#939393" stroke-width="1.1"/>
<text x="289.05" y="547.4" font-size="7" text-anchor="end" fill="#1a1a1a" stroke="#1a1a1a" stroke-width="0.15" textLength="13.35" lengthAdjust="spacingAndGlyphs">0.04</text>
<line x1="289.5" y1="573.5" x2="332.6" y2="573.5" stroke="#939393" stroke-width="1.1"/>
<text x="289.05" y="576.4" font-size="7" text-anchor="end" fill="#1a1a1a" stroke="#1a1a1a" stroke-width="0.15" textLength="13.35" lengthAdjust="spacingAndGlyphs">0.03</text>
<line x1="289.5" y1="602.5" x2="332.6" y2="602.5" stroke="#939393" stroke-width="1.1"/>
<text x="289.05" y="605.4" font-size="7" text-anchor="end" fill="#1a1a1a" stroke="#1a1a1a" stroke-width="0.15" textLength="13.35" lengthAdjust="spacingAndGlyphs">0.02</text>
<line x1="289.5" y1="631.5" x2="332.6" y2="631.5" stroke="#939393" stroke-width="1.1"/>
<text x="289.05" y="634.4" font-size="7" text-anchor="end" fill="#1a1a1a" stroke="#1a1a1a" stroke-width="0.15" textLength="13.35" lengthAdjust="spacingAndGlyphs">0.01</text>
<line x1="289.5" y1="660.5" x2="332.6" y2="660.5" stroke="#939393" stroke-width="1.1"/>
<text x="289.05" y="663.4" font-size="7" text-anchor="end" fill="#1a1a1a" stroke="#1a1a1a" stroke-width="0.15" textLength="3.81" lengthAdjust="spacingAndGlyphs">0</text>
<line x1="291.9" y1="486.5" x2="291.9" y2="661" stroke="#ababab" stroke-width="1.5"/>
<line x1="300.05" y1="540.06" x2="300.05" y2="576.98" stroke="#1e1e1e" stroke-width="1.05"/>
<rect x="297.1" y="576.98" width="5.9" height="83.42" fill="url(#gblue)"/>
<line x1="306" y1="518.55" x2="306" y2="543.84" stroke="#1e1e1e" stroke-width="1.05"/>
<rect x="303" y="543.84" width="6" height="116.56" fill="url(#gred)"/>
<line x1="318.95" y1="574.94" x2="318.95" y2="607.5" stroke="#1e1e1e" stroke-width="1.05"/>
<rect x="316" y="607.5" width="5.9" height="52.9" fill="url(#gblue)"/>
<line x1="324.85" y1="513.61" x2="324.85" y2="533.67" stroke="#1e1e1e" stroke-width="1.05"/>
<rect x="321.9" y="533.67" width="5.9" height="126.73" fill="url(#gred)"/>
<line x1="315.2" y1="501.4" x2="325.9" y2="501.4" stroke="#151515" stroke-width="1.2"/>
<text x="321.05" y="502.4" font-size="10" font-weight="bold" letter-spacing="0.6" text-anchor="middle" fill="#111">*</text>
<polygon points="293.5,477.9 299.15,477.9 303.75,480.8 299.15,483.7 293.5,483.7" fill="#5ec3cf" stroke="#1a1a1a" stroke-width="0.9"/>
<polygon points="314,477.9 308.35,477.9 303.75,480.8 308.35,483.7 314,483.7" fill="#5ec3cf" stroke="#1a1a1a" stroke-width="0.9"/>
<text x="316.5" y="484.6" font-size="10.4" text-anchor="start" fill="#1a1a1a" stroke="#1a1a1a" stroke-width="0.22" >#3</text>
<text x="312.9" y="669.6" font-size="8.8" text-anchor="middle" fill="#111" stroke="#111" stroke-width="0.22" >acH3&#160;&#160;acH4</text>
<line x1="353.2" y1="486.5" x2="394.7" y2="486.5" stroke="#939393" stroke-width="1.1"/>
<text x="351.05" y="489.4" font-size="7" text-anchor="end" fill="#1a1a1a" stroke="#1a1a1a" stroke-width="0.15" textLength="12.53" lengthAdjust="spacingAndGlyphs">0.35</text>
<line x1="353.2" y1="510.5" x2="394.7" y2="510.5" stroke="#939393" stroke-width="1.1"/>
<text x="351.05" y="513.4" font-size="7" text-anchor="end" fill="#1a1a1a" stroke="#1a1a1a" stroke-width="0.15" textLength="8.95" lengthAdjust="spacingAndGlyphs">0.3</text>
<line x1="353.2" y1="535.5" x2="394.7" y2="535.5" stroke="#939393" stroke-width="1.1"/>
<text x="351.05" y="538.4" font-size="7" text-anchor="end" fill="#1a1a1a" stroke="#1a1a1a" stroke-width="0.15" textLength="12.53" lengthAdjust="spacingAndGlyphs">0.25</text>
<line x1="353.2" y1="560.5" x2="394.7" y2="560.5" stroke="#939393" stroke-width="1.1"/>
<text x="351.05" y="563.4" font-size="7" text-anchor="end" fill="#1a1a1a" stroke="#1a1a1a" stroke-width="0.15" textLength="8.95" lengthAdjust="spacingAndGlyphs">0.2</text>
<line x1="353.2" y1="585.5" x2="394.7" y2="585.5" stroke="#939393" stroke-width="1.1"/>
<text x="351.05" y="588.4" font-size="7" text-anchor="end" fill="#1a1a1a" stroke="#1a1a1a" stroke-width="0.15" textLength="12.53" lengthAdjust="spacingAndGlyphs">0.15</text>
<line x1="353.2" y1="610.5" x2="394.7" y2="610.5" stroke="#939393" stroke-width="1.1"/>
<text x="351.05" y="613.4" font-size="7" text-anchor="end" fill="#1a1a1a" stroke="#1a1a1a" stroke-width="0.15" textLength="8.95" lengthAdjust="spacingAndGlyphs">0.1</text>
<line x1="353.2" y1="635.5" x2="394.7" y2="635.5" stroke="#939393" stroke-width="1.1"/>
<text x="351.05" y="638.4" font-size="7" text-anchor="end" fill="#1a1a1a" stroke="#1a1a1a" stroke-width="0.15" textLength="12.53" lengthAdjust="spacingAndGlyphs">0.05</text>
<line x1="353.2" y1="660.5" x2="394.7" y2="660.5" stroke="#939393" stroke-width="1.1"/>
<text x="351.05" y="663.4" font-size="7" text-anchor="end" fill="#1a1a1a" stroke="#1a1a1a" stroke-width="0.15" textLength="3.58" lengthAdjust="spacingAndGlyphs">0</text>
<line x1="355.6" y1="486.5" x2="355.6" y2="661" stroke="#ababab" stroke-width="1.5"/>
<line x1="362.95" y1="658.91" x2="362.95" y2="659.4" stroke="#1e1e1e" stroke-width="1.05"/>
<rect x="359.9" y="659.4" width="6.1" height="1" fill="url(#gblue)"/>
<line x1="369.05" y1="498.46" x2="369.05" y2="534.58" stroke="#1e1e1e" stroke-width="1.05"/>
<rect x="366" y="534.58" width="6.1" height="125.82" fill="url(#gred)"/>
<line x1="380.95" y1="633.19" x2="380.95" y2="648.44" stroke="#1e1e1e" stroke-width="1.05"/>
<rect x="378" y="648.44" width="5.9" height="11.96" fill="url(#gblue)"/>
<line x1="387" y1="519.39" x2="387" y2="562.89" stroke="#1e1e1e" stroke-width="1.05"/>
<rect x="383.9" y="562.89" width="6.2" height="97.51" fill="url(#gred)"/>
<line x1="360.3" y1="495.1" x2="371.2" y2="495.1" stroke="#151515" stroke-width="1.2"/>
<text x="366.25" y="496.1" font-size="10" font-weight="bold" letter-spacing="0.6" text-anchor="middle" fill="#111">**</text>
<line x1="377.7" y1="503.3" x2="388.6" y2="503.3" stroke="#151515" stroke-width="1.2"/>
<text x="383.65" y="504.3" font-size="10" font-weight="bold" letter-spacing="0.6" text-anchor="middle" fill="#111">*</text>
<polygon points="358.4,477.9 364.05,477.9 368.65,480.8 364.05,483.7 358.4,483.7" fill="#5ec3cf" stroke="#1a1a1a" stroke-width="0.9"/>
<polygon points="378.9,477.9 373.25,477.9 368.65,480.8 373.25,483.7 378.9,483.7" fill="#5ec3cf" stroke="#1a1a1a" stroke-width="0.9"/>
<text x="381.4" y="484.6" font-size="10.4" text-anchor="start" fill="#1a1a1a" stroke="#1a1a1a" stroke-width="0.22" >#2</text>
<text x="375.7" y="669.6" font-size="8.8" text-anchor="middle" fill="#111" stroke="#111" stroke-width="0.22" >acH3&#160;&#160;acH4</text>
<line x1="415.4" y1="486.5" x2="458.1" y2="486.5" stroke="#939393" stroke-width="1.1"/>
<text x="414.05" y="489.4" font-size="7" text-anchor="end" fill="#1a1a1a" stroke="#1a1a1a" stroke-width="0.15" textLength="13.35" lengthAdjust="spacingAndGlyphs">0.12</text>
<line x1="415.4" y1="515.5" x2="458.1" y2="515.5" stroke="#939393" stroke-width="1.1"/>
<text x="414.05" y="518.4" font-size="7" text-anchor="end" fill="#1a1a1a" stroke="#1a1a1a" stroke-width="0.15" textLength="9.54" lengthAdjust="spacingAndGlyphs">0.1</text>
<line x1="415.4" y1="544.5" x2="458.1" y2="544.5" stroke="#939393" stroke-width="1.1"/>
<text x="414.05" y="547.4" font-size="7" text-anchor="end" fill="#1a1a1a" stroke="#1a1a1a" stroke-width="0.15" textLength="13.35" lengthAdjust="spacingAndGlyphs">0.08</text>
<line x1="415.4" y1="573.5" x2="458.1" y2="573.5" stroke="#939393" stroke-width="1.1"/>
<text x="414.05" y="576.4" font-size="7" text-anchor="end" fill="#1a1a1a" stroke="#1a1a1a" stroke-width="0.15" textLength="13.35" lengthAdjust="spacingAndGlyphs">0.06</text>
<line x1="415.4" y1="602.5" x2="458.1" y2="602.5" stroke="#939393" stroke-width="1.1"/>
<text x="414.05" y="605.4" font-size="7" text-anchor="end" fill="#1a1a1a" stroke="#1a1a1a" stroke-width="0.15" textLength="13.35" lengthAdjust="spacingAndGlyphs">0.04</text>
<line x1="415.4" y1="631.5" x2="458.1" y2="631.5" stroke="#939393" stroke-width="1.1"/>
<text x="414.05" y="634.4" font-size="7" text-anchor="end" fill="#1a1a1a" stroke="#1a1a1a" stroke-width="0.15" textLength="13.35" lengthAdjust="spacingAndGlyphs">0.02</text>
<line x1="415.4" y1="660.5" x2="458.1" y2="660.5" stroke="#939393" stroke-width="1.1"/>
<text x="414.05" y="663.4" font-size="7" text-anchor="end" fill="#1a1a1a" stroke="#1a1a1a" stroke-width="0.15" textLength="3.81" lengthAdjust="spacingAndGlyphs">0</text>
<line x1="417.8" y1="486.5" x2="417.8" y2="661" stroke="#ababab" stroke-width="1.5"/>
<line x1="426.05" y1="602.12" x2="426.05" y2="604.59" stroke="#1e1e1e" stroke-width="1.05"/>
<rect x="423.1" y="604.59" width="5.9" height="55.81" fill="url(#gblue)"/>
<line x1="432" y1="626.25" x2="432" y2="637.44" stroke="#1e1e1e" stroke-width="1.05"/>
<rect x="429" y="637.44" width="6" height="22.96" fill="url(#gred)"/>
<line x1="444.05" y1="557.65" x2="444.05" y2="563.75" stroke="#1e1e1e" stroke-width="1.05"/>
<rect x="441.1" y="563.75" width="5.9" height="96.65" fill="url(#gblue)"/>
<line x1="450.25" y1="513.18" x2="450.25" y2="539.63" stroke="#1e1e1e" stroke-width="1.05"/>
<rect x="447" y="539.63" width="6.5" height="120.77" fill="url(#gred)"/>
<line x1="422.3" y1="595.6" x2="433.2" y2="595.6" stroke="#151515" stroke-width="1.2"/>
<text x="428.25" y="596.6" font-size="10" font-weight="bold" letter-spacing="0.6" text-anchor="middle" fill="#111">**</text>
<polygon points="420.6,477.9 426.25,477.9 430.85,480.8 426.25,483.7 420.6,483.7" fill="#5ec3cf" stroke="#1a1a1a" stroke-width="0.9"/>
<polygon points="441.1,477.9 435.45,477.9 430.85,480.8 435.45,483.7 441.1,483.7" fill="#5ec3cf" stroke="#1a1a1a" stroke-width="0.9"/>
<text x="443.6" y="484.6" font-size="10.4" text-anchor="start" fill="#1a1a1a" stroke="#1a1a1a" stroke-width="0.22" >#1</text>
<text x="437" y="669.6" font-size="8.8" text-anchor="middle" fill="#111" stroke="#111" stroke-width="0.22" >acH3&#160;&#160;acH4</text>
<text x="14.5" y="577.1" font-size="10.5" text-anchor="middle" fill="#111" stroke="#111" stroke-width="0.22" transform="rotate(-90 14.5 577.1)" dy="3.7">%Input</text>
<text x="161" y="681.6" font-size="10.5" text-anchor="start" fill="#111" stroke="#111" stroke-width="0.22" >antibody for ChIP: anti acetylated Histone</text>
</svg>
</body></html>
